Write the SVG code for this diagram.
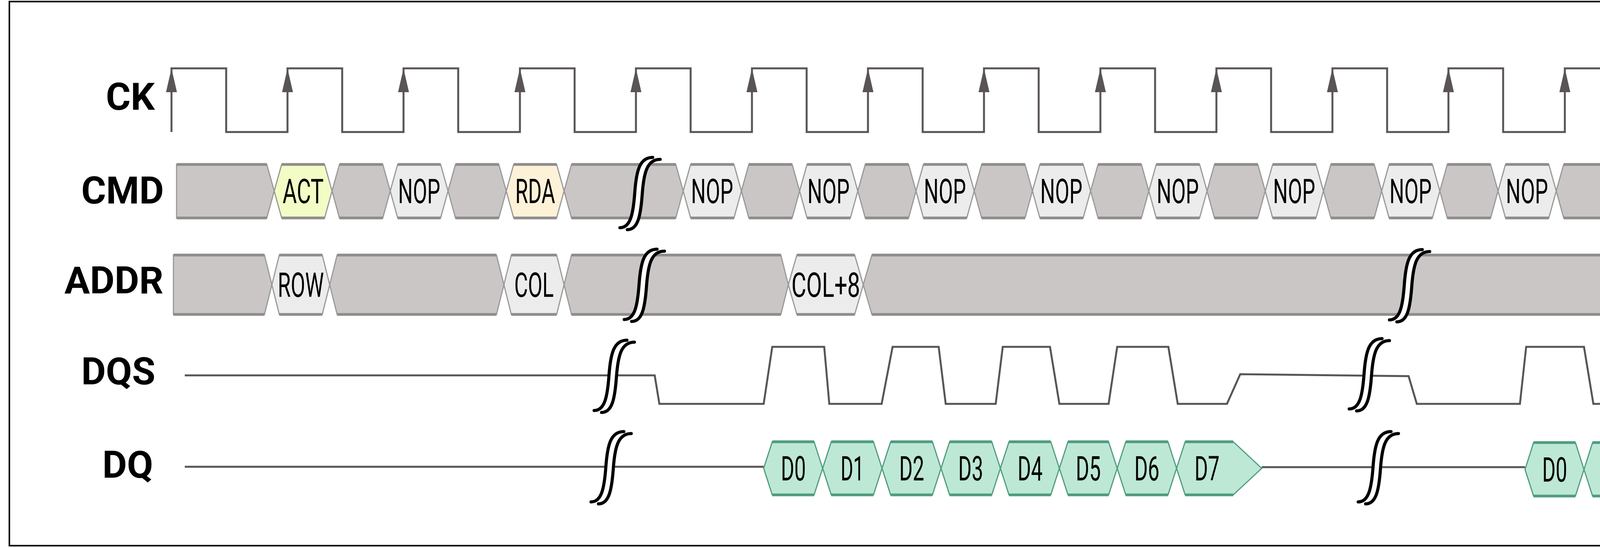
<svg xmlns="http://www.w3.org/2000/svg" xmlns:xlink="http://www.w3.org/1999/xlink" width="4799" height="1403" viewBox="0 0 4799 1403">
<style>
.lbl{font-family:Roboto,"Liberation Sans",sans-serif;font-weight:bold;font-size:97px;fill:#000}
.bt{font-family:Roboto,"Liberation Sans",sans-serif;font-size:87px;fill:#000;text-anchor:middle}
.wave{fill:none;stroke:#5a5555;stroke-width:5;stroke-linejoin:miter}
.g{fill:#cbc6c6;stroke:#999;stroke-width:3}
.l{fill:#ececec;stroke:#999;stroke-width:3}
.act{fill:#f2fcc5;stroke:#999;stroke-width:3}
.rda{fill:#fdf2d7;stroke:#999;stroke-width:3}
.d{fill:#bde8d6;stroke:#4f9c7e;stroke-width:3}
.edge{stroke:#8f8c8c;stroke-width:7}
.dedge{stroke:#4f9c7e;stroke-width:7}
.arr{fill:#5a5555}
</style>
<defs>
<path id="bc" d="M-42,90 C-15,90 -8,55 -4,0 S8,-90 42,-90" fill="none"/>
<g id="brk">
<use xlink:href="#bc" x="0" y="2" stroke="#fff" stroke-width="16"/>
<use xlink:href="#bc" x="-9" y="0" stroke="#000" stroke-width="8" stroke-linecap="round"/>
<use xlink:href="#bc" x="10" y="5" stroke="#000" stroke-width="8" stroke-linecap="round"/>
</g>
</defs>
<rect x="24" y="4" width="4764" height="1393" fill="#fff" stroke="#000" stroke-width="4"/>

<g id="labels">
<text class="lbl" x="271" y="281">CK</text>
<text class="lbl" x="208" y="521">CMD</text>
<text class="lbl" x="165" y="751">ADDR</text>
<text class="lbl" x="208" y="984">DQS</text>
<text class="lbl" x="262" y="1223">DQ</text>
</g>

<g id="CK">
<path class="wave" d="M439,338 V175 H579 V338 H736 V175 H876 V338 H1033 V175 H1173 V338 H1331 V175 H1471 V338 H1628 V175 H1768 V338 H1925 V175 H2065 V338 H2222 V175 H2362 V338 H2519 V175 H2659 V338 H2817 V175 H2957 V338 H3114 V175 H3254 V338 H3411 V175 H3551 V338 H3708 V175 H3848 V338 H4006 V175 H4146 V338 H4303 V175 H4447 V338 H4689"/>
<g class="arr">
<polygon points="439,175 425,236 453,236"/><polygon points="736,175 722,236 750,236"/><polygon points="1033,175 1019,236 1047,236"/><polygon points="1331,175 1317,236 1345,236"/><polygon points="1628,175 1614,236 1642,236"/><polygon points="1925,175 1911,236 1939,236"/><polygon points="2222,175 2208,236 2236,236"/><polygon points="2519,175 2505,236 2533,236"/><polygon points="2817,175 2803,236 2831,236"/><polygon points="3114,175 3100,236 3128,236"/><polygon points="3411,175 3397,236 3425,236"/><polygon points="3708,175 3694,236 3722,236"/><polygon points="4006,175 3992,236 4020,236"/><polygon points="4303,175 4289,236 4317,236"/>
</g>
</g>

<g id="CMD">
<polygon class="g" points="452,421 683,421 702,489 683,558 452,558"/>
<polygon class="act" points="702,489 721,421 831,421 850,489 831,558 721,558"/>
<polygon class="g" points="850,489 869,421 980,421 999,489 980,558 869,558"/>
<polygon class="l" points="999,489 1018,421 1128,421 1147,489 1128,558 1018,558"/>
<polygon class="g" points="1147,489 1166,421 1277,421 1296,489 1277,558 1166,558"/>
<polygon class="rda" points="1296,489 1315,421 1425,421 1444,489 1425,558 1315,558"/>
<polygon class="g" points="1444,489 1463,421 1730,421 1749,489 1730,558 1463,558"/>
<polygon class="l" points="1749,489 1768,421 1879,421 1898,489 1879,558 1768,558"/>
<polygon class="g" points="1898,489 1917,421 2028,421 2047,489 2028,558 1917,558"/>
<polygon class="l" points="2047,489 2066,421 2177,421 2196,489 2177,558 2066,558"/>
<polygon class="g" points="2196,489 2215,421 2326,421 2345,489 2326,558 2215,558"/>
<polygon class="l" points="2345,489 2364,421 2475,421 2494,489 2475,558 2364,558"/>
<polygon class="g" points="2494,489 2513,421 2624,421 2643,489 2624,558 2513,558"/>
<polygon class="l" points="2643,489 2662,421 2773,421 2792,489 2773,558 2662,558"/>
<polygon class="g" points="2792,489 2811,421 2922,421 2941,489 2922,558 2811,558"/>
<polygon class="l" points="2941,489 2960,421 3071,421 3090,489 3071,558 2960,558"/>
<polygon class="g" points="3090,489 3109,421 3220,421 3239,489 3220,558 3109,558"/>
<polygon class="l" points="3239,489 3258,421 3369,421 3388,489 3369,558 3258,558"/>
<polygon class="g" points="3388,489 3407,421 3518,421 3537,489 3518,558 3407,558"/>
<polygon class="l" points="3537,489 3556,421 3667,421 3686,489 3667,558 3556,558"/>
<polygon class="g" points="3686,489 3705,421 3816,421 3835,489 3816,558 3705,558"/>
<polygon class="l" points="3835,489 3854,421 3965,421 3984,489 3965,558 3854,558"/>
<polygon class="g" points="3984,489 4003,421 4114,421 4133,489 4114,558 4003,558"/>
<polygon class="l" points="4133,489 4152,421 4263,421 4282,489 4263,558 4152,558"/>
<polygon class="g" points="4282,489 4301,421 4412,421 4431,489 4412,558 4301,558"/>
<polygon class="l" points="4431,489 4450,421 4593,421 4593,558 4450,558" style="stroke:none"/>
<path class="edge" d="M452,421 H683 M721,421 H831 M869,421 H980 M1018,421 H1128 M1166,421 H1277 M1315,421 H1425 M1463,421 H1730 M1768,421 H1879 M1917,421 H2028 M2066,421 H2177 M2215,421 H2326 M2364,421 H2475 M2513,421 H2624 M2662,421 H2773 M2811,421 H2922 M2960,421 H3071 M3109,421 H3220 M3258,421 H3369 M3407,421 H3518 M3556,421 H3667 M3705,421 H3816 M3854,421 H3965 M4003,421 H4114 M4152,421 H4263 M4301,421 H4412 M4450,421 H4593"/>
<path class="edge" d="M452,558 H683 M721,558 H831 M869,558 H980 M1018,558 H1128 M1166,558 H1277 M1315,558 H1425 M1463,558 H1730 M1768,558 H1879 M1917,558 H2028 M2066,558 H2177 M2215,558 H2326 M2364,558 H2475 M2513,558 H2624 M2662,558 H2773 M2811,558 H2922 M2960,558 H3071 M3109,558 H3220 M3258,558 H3369 M3407,558 H3518 M3556,558 H3667 M3705,558 H3816 M3854,558 H3965 M4003,558 H4114 M4152,558 H4263 M4301,558 H4412 M4450,558 H4593"/>
<g class="bt">
<text x="776" y="520" textLength="105" lengthAdjust="spacingAndGlyphs">ACT</text>
<text x="1073" y="520" textLength="108" lengthAdjust="spacingAndGlyphs">NOP</text>
<text x="1370" y="520" textLength="102" lengthAdjust="spacingAndGlyphs">RDA</text>
<text x="1823" y="520" textLength="108" lengthAdjust="spacingAndGlyphs">NOP</text>
<text x="2121" y="520" textLength="108" lengthAdjust="spacingAndGlyphs">NOP</text>
<text x="2419" y="520" textLength="108" lengthAdjust="spacingAndGlyphs">NOP</text>
<text x="2717" y="520" textLength="108" lengthAdjust="spacingAndGlyphs">NOP</text>
<text x="3015" y="520" textLength="108" lengthAdjust="spacingAndGlyphs">NOP</text>
<text x="3313" y="520" textLength="108" lengthAdjust="spacingAndGlyphs">NOP</text>
<text x="3611" y="520" textLength="108" lengthAdjust="spacingAndGlyphs">NOP</text>
<text x="3909" y="520" textLength="108" lengthAdjust="spacingAndGlyphs">NOP</text>
<text x="4207" y="520" textLength="108" lengthAdjust="spacingAndGlyphs">NOP</text>
</g>
</g>

<g id="ADDR">
<polygon class="g" points="444,653 677,653 696,729 677,805 444,805"/>
<polygon class="l" points="696,729 715,653 825,653 844,729 825,805 715,805"/>
<polygon class="g" points="844,729 863,653 1271,653 1290,729 1271,805 863,805"/>
<polygon class="l" points="1290,729 1309,653 1425,653 1444,729 1425,805 1309,805"/>
<polygon class="g" points="1444,729 1463,653 1999,653 2018,729 1999,805 1463,805"/>
<polygon class="l" points="2018,729 2040,653 2188,653 2210,729 2188,805 2040,805"/>
<polygon class="g" points="2210,729 2232,653 4689,653 4689,805 2232,805"/>
<path class="edge" d="M444,653 H677 M715,653 H825 M863,653 H1271 M1309,653 H1425 M1463,653 H1999 M2040,653 H2188 M2232,653 H4689 M444,805 H677 M715,805 H825 M863,805 H1271 M1309,805 H1425 M1463,805 H1999 M2040,805 H2188 M2232,805 H4689"/>
<g class="bt">
<text x="770" y="760" textLength="118" lengthAdjust="spacingAndGlyphs">ROW</text>
<text x="1367" y="760" textLength="101" lengthAdjust="spacingAndGlyphs">COL</text>
<text x="2114" y="760" textLength="176" lengthAdjust="spacingAndGlyphs">COL+8</text>
</g>
</g>

<g id="DQS">
<path class="wave" d="M473,961 H1676 L1688,1034 H1955 L1977,888 H2110 L2123,1034 H2257 L2285,888 H2403 L2421,1034 H2549 L2567,888 H2688 L2712,1034 H2838 L2860,888 H2991 L3015,1034 H3141 L3175,958 L3606,963 L3627,1034 H3891 L3907,888 H4055 L4079,1034 H4350 L4369,888 H4491 L4533,1034 H4625"/>
</g>

<g id="DQ">
<path class="wave" d="M473,1195 H1955 M3230,1196 H3904"/>
<polygon class="d" points="1955,1199 1977,1131 2084,1131 2106,1199 2084,1267 1977,1267"/>
<polygon class="d" points="2106,1199 2128,1131 2236,1131 2258,1199 2236,1267 2128,1267"/>
<polygon class="d" points="2258,1199 2280,1131 2387,1131 2409,1199 2387,1267 2280,1267"/>
<polygon class="d" points="2409,1199 2431,1131 2539,1131 2561,1199 2539,1267 2431,1267"/>
<polygon class="d" points="2561,1199 2583,1131 2690,1131 2712,1199 2690,1267 2583,1267"/>
<polygon class="d" points="2712,1199 2734,1131 2838,1131 2860,1199 2838,1267 2734,1267"/>
<polygon class="d" points="2860,1199 2882,1131 2990,1131 3012,1199 2990,1267 2882,1267"/>
<polygon class="d" points="3012,1199 3034,1131 3157,1131 3230,1199 3157,1267 3034,1267"/>
<polygon class="d" points="3904,1202 3926,1133 4033,1133 4055,1202 4033,1270 3926,1270"/>
<polygon class="d" points="4055,1202 4077,1133 4330,1133 4352,1202 4330,1270 4077,1270"/>
<polygon class="d" points="4352,1202 4374,1133 4481,1133 4503,1202 4481,1270 4374,1270"/>
<polygon class="d" points="4503,1202 4525,1133 4660,1133 4660,1270 4525,1270" style="stroke:none"/>
<path class="dedge" d="M1977,1131 H2084 M2128,1131 H2236 M2280,1131 H2387 M2431,1131 H2539 M2583,1131 H2690 M2734,1131 H2838 M2882,1131 H2990 M3034,1131 H3157 M1977,1267 H2084 M2128,1267 H2236 M2280,1267 H2387 M2431,1267 H2539 M2583,1267 H2690 M2734,1267 H2838 M2882,1267 H2990 M3034,1267 H3157 M3926,1133 H4033 M4077,1133 H4330 M4374,1133 H4481 M4525,1133 H4660 M3926,1270 H4033 M4077,1270 H4330 M4374,1270 H4481 M4525,1270 H4660"/>
<g class="bt">
<text x="2031" y="1230" textLength="64" lengthAdjust="spacingAndGlyphs">D0</text>
<text x="2182" y="1230" textLength="60" lengthAdjust="spacingAndGlyphs">D1</text>
<text x="2334" y="1230" textLength="64" lengthAdjust="spacingAndGlyphs">D2</text>
<text x="2485" y="1230" textLength="64" lengthAdjust="spacingAndGlyphs">D3</text>
<text x="2637" y="1230" textLength="64" lengthAdjust="spacingAndGlyphs">D4</text>
<text x="2786" y="1230" textLength="64" lengthAdjust="spacingAndGlyphs">D5</text>
<text x="2936" y="1230" textLength="64" lengthAdjust="spacingAndGlyphs">D6</text>
<text x="3090" y="1230" textLength="64" lengthAdjust="spacingAndGlyphs">D7</text>
<text x="3980" y="1233" textLength="64" lengthAdjust="spacingAndGlyphs">D0</text>
<text x="4158" y="1233" textLength="60" lengthAdjust="spacingAndGlyphs">D1</text>
</g>
</g>

<g id="breaks">
<use xlink:href="#brk" x="1638" y="493"/>
<use xlink:href="#brk" x="1649" y="728"/>
<use xlink:href="#brk" x="3608" y="729"/>
<use xlink:href="#brk" x="1572" y="961"/>
<use xlink:href="#brk" x="1564" y="1195"/>
<use xlink:href="#brk" x="3505" y="957"/>
<use xlink:href="#brk" x="4258" y="963"/>
<use xlink:href="#brk" x="3528" y="1195"/>
<use xlink:href="#brk" x="4249" y="1206"/>
</g>
</svg>
